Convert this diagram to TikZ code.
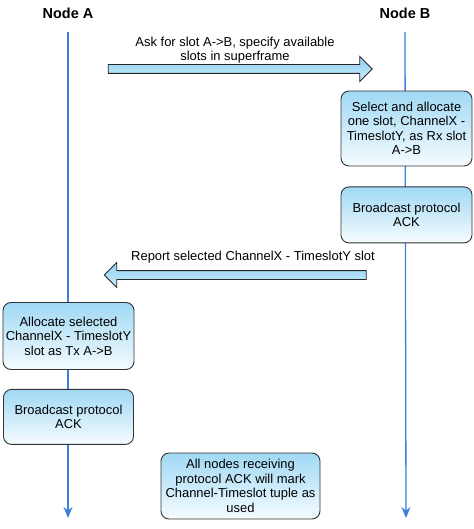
\documentclass[tikz,border=0pt]{standalone}
\usepackage{fontspec}
\setmainfont{Liberation Sans}
\usetikzlibrary{arrows.meta,positioning,shapes.arrows}

\definecolor{lifeblue}{HTML}{3F7FDC}
\definecolor{boxtop}{HTML}{A0D8F4}
\definecolor{boxbot}{HTML}{F6FCFF}
\definecolor{msgtop}{HTML}{92D2F2}
\definecolor{msgbot}{HTML}{C8EBFA}

\begin{document}
\begin{tikzpicture}[x=1bp,y=-1bp,>={Stealth[length=11bp,width=9bp]},
    header/.style={font=\fontsize{14.5}{16}\selectfont\bfseries},
    lifeline/.style={draw=lifeblue,fill=lifeblue,line width=1.3bp,->},
    action/.style={draw=black!80,line width=0.9bp,rounded corners=8bp,
      top color=boxtop,bottom color=boxbot,align=center,inner sep=2bp,
      font=\fontsize{13}{14.5}\selectfont},
    msg/.style={single arrow,draw=black!85,line width=0.9bp,
      top color=msgtop,bottom color=msgbot,inner xsep=0pt,inner ysep=4bp,
      single arrow head extend=8bp,single arrow tip angle=90,minimum width=0pt},
    msgtext/.style={align=center,font=\fontsize{13}{14.5}\selectfont}]
  \useasboundingbox (0,0) rectangle (474,529);

  \node[header] (hdrA) at (68,13) {Node A};
  \node[header] (hdrB) at (405,13) {Node B};
  \coordinate (endA) at (68,518);
  \coordinate (endB) at (406,518);

  \draw[lifeline] ([yshift=-10bp]hdrA.south) -- (endA);
  \draw[lifeline] ([yshift=-10bp]hdrB.south) -- (endB);

  % request A -> B
  \node[msg,minimum height=264bp] (ask) at (238,69) {};
  \node[msgtext] (asklbl) at (235,50) {Ask for slot A->B, specify available\\slots in superframe};

  \node[action,minimum width=131bp,minimum height=75bp] (select) at (406.5,128.5)
    {Select and allocate\\one slot, ChannelX -\\TimeslotY, as Rx slot\\A->B};
  \node[action,minimum width=131bp,minimum height=56bp,below=20bp of select] (ackB)
    {Broadcast protocol\\ACK};

  % reply B -> A
  \node[msg,shape border rotate=180,minimum height=262bp] (report) at (237.5,275) {};
  \node[msgtext] (reportlbl) at (253,257) {Report selected ChannelX - TimeslotY slot};

  \node[action,minimum width=131bp,minimum height=67bp] (alloc) at (68.5,336)
    {Allocate selected\\ChannelX - TimeslotY\\slot as Tx A->B};
  \node[action,minimum width=130bp,minimum height=55bp,below=19bp of alloc] (ackA)
    {Broadcast protocol\\ACK};

  \node[action,minimum width=159bp,minimum height=66bp] (mark) at (240.5,486)
    {All nodes receiving\\protocol ACK will mark\\Channel-Timeslot tuple as\\used};
\end{tikzpicture}
\end{document}
